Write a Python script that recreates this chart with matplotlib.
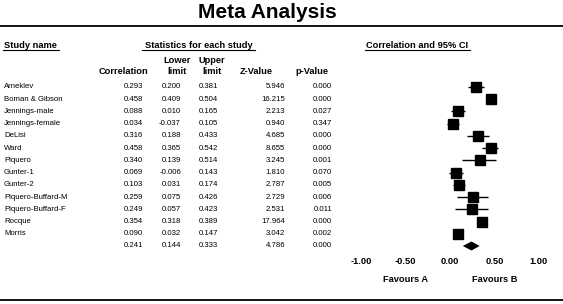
import matplotlib
matplotlib.use("Agg")
import matplotlib.pyplot as plt
from matplotlib.transforms import blended_transform_factory
from matplotlib.lines import Line2D

# ---------------- data ----------------
studies = ["Arneklev", "Boman & Gibson", "Jennings-male", "Jennings-female", "DeLisi",
           "Ward", "Piquero", "Gunter-1", "Gunter-2", "Piquero-Buffard-M",
           "Piquero-Buffard-F", "Rocque", "Morris"]
correlation = [0.293, 0.458, 0.088, 0.034, 0.316, 0.458, 0.340, 0.069, 0.103, 0.259, 0.249, 0.354, 0.090]
lower = [0.200, 0.409, 0.010, -0.037, 0.188, 0.365, 0.139, -0.006, 0.031, 0.075, 0.057, 0.318, 0.032]
upper = [0.381, 0.504, 0.165, 0.105, 0.433, 0.542, 0.514, 0.143, 0.174, 0.426, 0.423, 0.389, 0.147]
z_value = [5.946, 16.215, 2.213, 0.940, 4.685, 8.655, 3.245, 1.810, 2.787, 2.729, 2.531, 17.964, 3.042]
p_value = [0.000, 0.000, 0.027, 0.347, 0.000, 0.000, 0.001, 0.070, 0.005, 0.006, 0.011, 0.000, 0.002]
summary_corr, summary_lower, summary_upper, summary_z, summary_p = 0.241, 0.144, 0.333, 4.786, 0.000
tick_values = [-1.0, -0.5, 0.0, 0.5, 1.0]
favours_labels = ["Favours A", "Favours B"]
favours_pos = [-0.5, 0.5]

# ---------------- layout helpers ----------------
W, H = 563, 304
FONT = "Liberation Sans"
REG = 5.6
BOLD = 6.7


def fx(px):
    return px / W


def fy(py):
    return 1 - py / H


fig = plt.figure(figsize=(W / 100, H / 100), dpi=100)
fig.patch.set_facecolor("white")

# forest axes: x value 0 at px 450, 89 px per unit; rows from y=87, 12.23 px apart
x0_px, ppu = 450, 89
xlo, xhi = -1.2, 1.2
row0, rstep = 87.0, 12.23
ylo, yhi = -0.6, 13.6
ax_left = x0_px + xlo * ppu
ax_top = row0 + ylo * rstep
ax_bot = row0 + yhi * rstep
ax = fig.add_axes([fx(ax_left), fy(ax_bot), (xhi - xlo) * ppu / W, (ax_bot - ax_top) / H])
ax.set_xlim(xlo, xhi)
ax.set_ylim(yhi, ylo)
for s in ax.spines.values():
    s.set_visible(False)
ax.set_yticks([])
ax.set_xticks(tick_values)
ax.set_xticklabels([f"{v:.2f}" for v in tick_values], fontsize=BOLD, fontweight="bold", family=FONT)
ax.tick_params(axis="x", length=0, pad=3)
ax.patch.set_alpha(0)

n = len(studies)
rows = list(range(n))
for i in rows:
    ax.plot([lower[i], upper[i]], [i, i], color="black", lw=1.0, solid_capstyle="butt")
    ax.plot(correlation[i], i, marker="s", ms=7.3, color="black", mec="black", linestyle="none")

ax.fill([summary_lower, summary_corr, summary_upper, summary_corr],
        [n, n - 0.37, n, n + 0.37], color="black", lw=0)

# favours labels
tr_fav = blended_transform_factory(ax.transData, fig.transFigure)
for lab, pos in zip(favours_labels, favours_pos):
    fig.text(pos, fy(280), lab, transform=tr_fav, ha="center", va="center",
             fontsize=BOLD, fontweight="bold", family=FONT)

# ---------------- table ----------------
tr_row = blended_transform_factory(fig.transFigure, ax.transData)

col_right = {"corr": 143, "lower": 181, "upper": 218, "z": 285, "p": 332}
for i in rows:
    fig.text(fx(4), i, studies[i], transform=tr_row, ha="left", va="center", fontsize=REG, family=FONT)
    fig.text(fx(col_right["corr"]), i, f"{correlation[i]:.3f}", transform=tr_row, ha="right", va="center", fontsize=REG, family=FONT)
    fig.text(fx(col_right["lower"]), i, f"{lower[i]:.3f}", transform=tr_row, ha="right", va="center", fontsize=REG, family=FONT)
    fig.text(fx(col_right["upper"]), i, f"{upper[i]:.3f}", transform=tr_row, ha="right", va="center", fontsize=REG, family=FONT)
    fig.text(fx(col_right["z"]), i, f"{z_value[i]:.3f}", transform=tr_row, ha="right", va="center", fontsize=REG, family=FONT)
    fig.text(fx(col_right["p"]), i, f"{p_value[i]:.3f}", transform=tr_row, ha="right", va="center", fontsize=REG, family=FONT)

summary_vals = [summary_corr, summary_lower, summary_upper, summary_z, summary_p]
for key, v in zip(["corr", "lower", "upper", "z", "p"], summary_vals):
    fig.text(fx(col_right[key]), n, f"{v:.3f}", transform=tr_row, ha="right", va="center", fontsize=REG, family=FONT)

# headers
fig.text(fx(267), fy(12), "Meta Analysis", ha="center", va="center", fontsize=15, fontweight="bold", family=FONT)
hdr_y = 45
fig.text(fx(4), fy(hdr_y), "Study name", ha="left", va="center", fontsize=BOLD, fontweight="bold", family=FONT)
fig.text(fx(199), fy(hdr_y), "Statistics for each study", ha="center", va="center", fontsize=BOLD, fontweight="bold", family=FONT)
fig.text(fx(417), fy(hdr_y), "Correlation and 95% CI", ha="center", va="center", fontsize=BOLD, fontweight="bold", family=FONT)

line2_y, line1_y = 72, 60
fig.text(fx(148), fy(line2_y), "Correlation", ha="right", va="center", fontsize=BOLD, fontweight="bold", family=FONT)
fig.text(fx(177), fy(line1_y), "Lower", ha="center", va="center", fontsize=BOLD, fontweight="bold", family=FONT)
fig.text(fx(177), fy(line2_y), "limit", ha="center", va="center", fontsize=BOLD, fontweight="bold", family=FONT)
fig.text(fx(212), fy(line1_y), "Upper", ha="center", va="center", fontsize=BOLD, fontweight="bold", family=FONT)
fig.text(fx(212), fy(line2_y), "limit", ha="center", va="center", fontsize=BOLD, fontweight="bold", family=FONT)
fig.text(fx(256), fy(line2_y), "Z-Value", ha="center", va="center", fontsize=BOLD, fontweight="bold", family=FONT)
fig.text(fx(312), fy(line2_y), "p-Value", ha="center", va="center", fontsize=BOLD, fontweight="bold", family=FONT)

# underlines
ul_y = 49.5
for a, b in [(3, 59), (142, 255), (365, 470)]:
    fig.add_artist(Line2D([fx(a), fx(b)], [fy(ul_y), fy(ul_y)], transform=fig.transFigure, color="black", lw=0.8))

# rules
for yy in (26, 300):
    fig.add_artist(Line2D([0, 1], [fy(yy), fy(yy)], transform=fig.transFigure, color="black", lw=1.3))

fig.savefig("out.png", dpi=100, facecolor="white")
